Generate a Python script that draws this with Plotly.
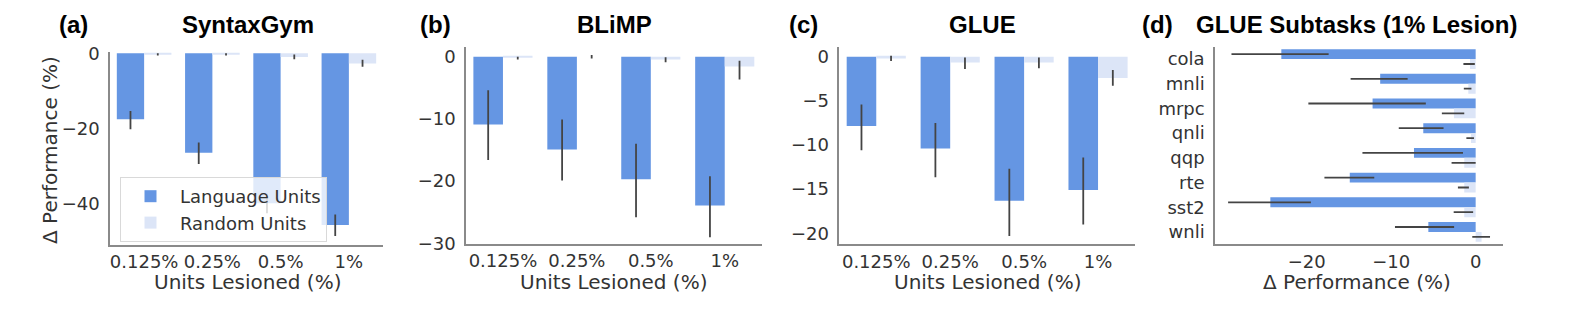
import plotly.graph_objects as go

W, H = 1581, 322

levels = ["0.125%", "0.25%", "0.5%", "1%"]
subtasks = ["cola", "mnli", "mrpc", "qnli", "qqp", "rte", "sst2", "wnli"]

# (a) SyntaxGym
sg_lang = [-17.5, -26.4, -39.8, -45.6]
sg_lang_lo = [-20.2, -29.4, -42.5, -48.5]
sg_lang_hi = [-15.3, -23.7, -37.2, -42.8]
sg_rand = [-0.3, -0.3, -1.0, -2.7]
sg_rand_lo = [-0.6, -0.6, -1.6, -3.6]
sg_rand_hi = [0.0, 0.0, -0.3, -1.7]

# (b) BLiMP
bl_lang = [-10.9, -14.9, -19.7, -23.9]
bl_lang_lo = [-16.6, -19.9, -25.8, -29.0]
bl_lang_hi = [-5.4, -10.1, -14.0, -19.2]
bl_rand = [-0.15, 0.0, -0.45, -1.6]
bl_rand_lo = [-0.45, -0.3, -0.9, -3.65]
bl_rand_hi = [0.0, 0.25, -0.1, -0.65]

# (c) GLUE
gl_lang = [-7.85, -10.4, -16.3, -15.1]
gl_lang_lo = [-10.6, -13.65, -20.3, -19.0]
gl_lang_hi = [-5.4, -7.5, -12.7, -11.4]
gl_rand = [-0.2, -0.65, -0.65, -2.4]
gl_rand_lo = [-0.5, -1.4, -1.3, -3.3]
gl_rand_hi = [0.1, -0.1, -0.1, -1.5]

# (d) GLUE subtasks, 1% lesion
st_lang = [-23.0, -11.3, -12.2, -6.2, -7.3, -14.9, -24.3, -5.6]
st_lang_lo = [-28.9, -14.8, -19.8, -9.1, -13.4, -17.9, -29.3, -9.55]
st_lang_hi = [-17.4, -8.05, -5.9, -3.8, -1.5, -12.0, -19.5, -2.55]
st_rand = [-0.67, -0.87, -2.57, -0.55, -1.35, -1.35, -1.35, 0.7]
st_rand_lo = [-1.45, -1.4, -4.0, -1.1, -2.85, -2.1, -2.6, -0.4]
st_rand_hi = [-0.1, -0.5, -1.35, -0.2, 0.0, -0.8, -0.3, 1.7]

C_LANG = "#6596e3"
C_RAND = "#dce5f7"
C_ERR = "#444444"
C_AX = "#8a8a8a"
C_TXT = "#333333"
TICK_FONT = dict(family="DejaVu Sans", size=18, color=C_TXT)


def err(v, lo, hi):
    return dict(type="data", symmetric=False,
                array=[h - x for x, h in zip(v, hi)],
                arrayminus=[x - l for x, l in zip(v, lo)],
                color=C_ERR, thickness=1.8, width=0)


fig = go.Figure()

panels = [
    ("x", "y", sg_lang, sg_lang_lo, sg_lang_hi, sg_rand, sg_rand_lo, sg_rand_hi, True),
    ("x2", "y2", bl_lang, bl_lang_lo, bl_lang_hi, bl_rand, bl_rand_lo, bl_rand_hi, False),
    ("x3", "y3", gl_lang, gl_lang_lo, gl_lang_hi, gl_rand, gl_rand_lo, gl_rand_hi, False),
]
for xa, ya, lv, llo, lhi, rv, rlo, rhi, show in panels:
    fig.add_trace(go.Bar(x=levels, y=lv, name="Language Units", marker=dict(color=C_LANG, line=dict(width=0)),
                         error_y=err(lv, llo, lhi), xaxis=xa, yaxis=ya, showlegend=show,
                         legendgroup="lang", offsetgroup="lang"))
    fig.add_trace(go.Bar(x=levels, y=rv, name="Random Units", marker=dict(color=C_RAND, line=dict(width=0)),
                         error_y=err(rv, rlo, rhi), xaxis=xa, yaxis=ya, showlegend=show,
                         legendgroup="rand", offsetgroup="rand"))

fig.add_trace(go.Bar(y=subtasks, x=st_lang, orientation="h", marker=dict(color=C_LANG, line=dict(width=0)),
                     error_x=err(st_lang, st_lang_lo, st_lang_hi), xaxis="x4", yaxis="y4",
                     showlegend=False, offsetgroup="lang"))
fig.add_trace(go.Bar(y=subtasks, x=st_rand, orientation="h", marker=dict(color=C_RAND, line=dict(width=0)),
                     error_x=err(st_rand, st_rand_lo, st_rand_hi), xaxis="x4", yaxis="y4",
                     showlegend=False, offsetgroup="rand"))


def px(x):
    return x / W


def py(y):
    return 1 - y / H


axis_common = dict(showgrid=False, zeroline=False, showline=True, linecolor=C_AX, linewidth=1.5,
                   ticks="", tickfont=TICK_FONT, fixedrange=True, automargin=False)

# pixel boxes: (left, right, top, bottom)
boxes = [(110, 383, 51.7, 245), (466, 761.7, 46.7, 244), (839.3, 1135, 46.7, 244.3), (1215, 1502.7, 46.7, 244.3)]
yranges = [[-50.9, 0.42], [-30.1, 1.6], [-21.24, 1.13]]
ydticks = [[0, -20, -40], [0, -10, -20, -30], [0, -5, -10, -15, -20]]

layout = dict(width=W, height=H, margin=dict(l=0, r=0, t=0, b=0, pad=0), autosize=False, template="none",
              plot_bgcolor="white", paper_bgcolor="white", barmode="group", bargap=0.2, bargroupgap=0,
              font=dict(family="DejaVu Sans", color=C_TXT))
for i in range(3):
    l, r, t, b = boxes[i]
    s = "" if i == 0 else str(i + 1)
    layout["xaxis" + s] = dict(axis_common, domain=[px(l), px(r)], anchor="y" + s, type="category",
                               categoryorder="array", categoryarray=levels, range=[-0.5, 3.5],
                               ticklabelstandoff=0)
    layout["yaxis" + s] = dict(axis_common, domain=[py(b), py(t)], anchor="x" + s, range=yranges[i],
                               tickvals=ydticks[i], ticklabelstandoff=5)
l, r, t, b = boxes[3]
layout["xaxis4"] = dict(axis_common, domain=[px(l), px(r)], anchor="y4", range=[-30.85, 3.2],
                        tickvals=[-20, -10, 0], ticklabelstandoff=0)
layout["yaxis4"] = dict(axis_common, domain=[py(b), py(t)], anchor="x4", type="category",
                        categoryorder="array", categoryarray=subtasks, range=[7.5, -0.5],
                        ticklabelstandoff=5)

layout["legend"] = dict(x=px(120), y=py(177), xanchor="left", yanchor="top",
                        bgcolor="rgba(255,255,255,0.8)", bordercolor="#d9d9d9", borderwidth=1,
                        font=dict(family="DejaVu Sans", size=18, color=C_TXT), traceorder="normal",
                        itemwidth=49, tracegroupgap=3)

ann = []
TF = dict(family="Liberation Sans, Arial", size=24, color="black")
titles = [("(a)", 73), ("SyntaxGym", 247.5), ("(b)", 435), ("BLiMP", 614), ("(c)", 803), ("GLUE", 982),
          ("(d)", 1157), ("GLUE Subtasks (1% Lesion)", 1356)]
for txt, x in titles:
    ann.append(dict(text="<b>%s</b>" % txt, x=px(x), y=py(25), xref="paper", yref="paper",
                    xanchor="center", yanchor="middle", showarrow=False, font=TF))
LF = dict(family="DejaVu Sans", size=20, color=C_TXT)
for txt, x in [("Units Lesioned (%)", 247.5), ("Units Lesioned (%)", 613), ("Units Lesioned (%)", 987),
               ("Δ Performance (%)", 1357)]:
    ann.append(dict(text=txt, x=px(x), y=py(282), xref="paper", yref="paper", xanchor="center",
                    yanchor="middle", showarrow=False, font=LF))
ann.append(dict(text="Δ Performance (%)", x=px(50), y=py(150), xref="paper", yref="paper", xanchor="center",
                yanchor="middle", showarrow=False, font=LF, textangle=-90))
layout["annotations"] = ann

fig.update_layout(**layout)
fig.write_html("out.html", config={"displayModeBar": False},
               post_script="document.body.style.margin='0px';document.body.style.overflow='hidden';")
